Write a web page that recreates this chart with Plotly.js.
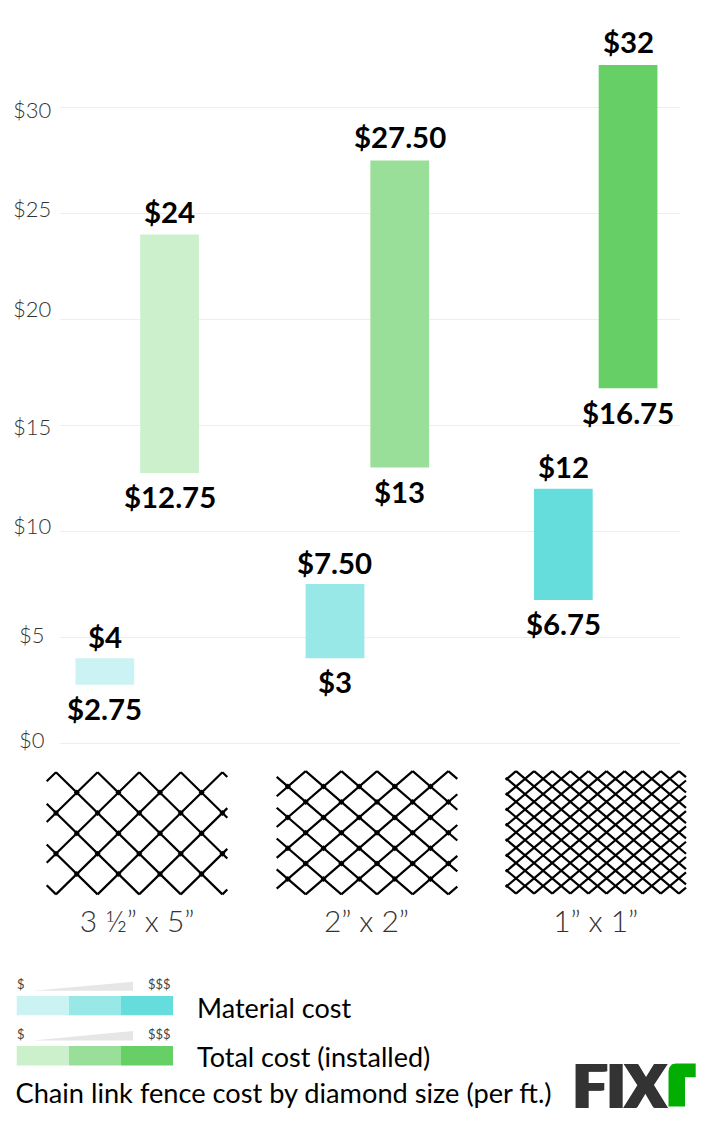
<!DOCTYPE html>
<html>
<head>
<meta charset="utf-8">
<script src="https://cdn.plot.ly/plotly-3.0.1.min.js"></script>
<style>html,body{margin:0;padding:0;background:#fff}#chart{opacity:.999}</style>
</head>
<body>
<div id="chart" style="width:710px;height:1123px"></div>
<script>
// ---- data ----
const sizes = ['3 ½” x 5”', '2” x 2”', '1” x 1”'];
const materialLow = [2.75, 4, 6.75];
const materialHigh = [4, 7.5, 12];
const totalLow = [12.75, 13, 16.75];
const totalHigh = [24, 27.5, 32];
const materialLowLabels = ['$2.75', '$3', '$6.75'];
const materialHighLabels = ['$4', '$7.50', '$12'];
const totalLowLabels = ['$12.75', '$13', '$16.75'];
const totalHighLabels = ['$24', '$27.50', '$32'];
const yTicks = [0, 5, 10, 15, 20, 25, 30];
const yTickLabels = ['$0', '$5', '$10', '$15', '$20', '$25', '$30'];
const legendNames = ['Material cost', 'Total cost (installed)'];
const chartTitle = 'Chain link fence cost by diamond size (per ft.)';

// ---- styles ----
const xSlots = [0, 1.004, 2];
const materialColors = ['#CCF3F3', '#98E8E8', '#66DDDD'];
const totalColors = ['#CCF0CC', '#99DF99', '#66D066'];
const yTickNudge = [3.3, 3, 5.5, -1, 10.7, 4.4, -2.5];
const W = 710, H = 1123, L = 60, R = 680, T = 20, B = 743.5;
const px = x => (x - L) / (R - L);
const py = y => (B - y) / (B - T);
const FONT = 'Lato, sans-serif';
const fences = [
  {x0: 46.7, x1: 227.3, y0: 772.7, y1: 895, apex: 56, dx: 20.8, dy: 20.38, width: 2.2, dot: 3},
  {x0: 276.7, x1: 457.3, y0: 771.7, y1: 895, apex: 305.7, dx: 17.83, dy: 15.41, width: 2.2, dot: 3},
  {x0: 505.7, x1: 686, y0: 771.7, y1: 894.3, apex: 516, dx: 9.05, dy: 7.66, width: 2.2, dot: 0}
];

function fencePath(f) {
  let d = '';
  for (let k = -30; k < 60; k++) {
    const ax = f.apex + 2 * f.dx * k;
    [1, -1].forEach(s => {
      let xa = s > 0 ? ax : ax - f.dx * (f.y1 - f.y0) / f.dy;
      let xb = s > 0 ? ax + f.dx * (f.y1 - f.y0) / f.dy : ax;
      xa = Math.max(xa, f.x0);
      xb = Math.min(xb, f.x1);
      if (xb <= xa) return;
      const yAt = x => f.y0 + s * (x - ax) * f.dy / f.dx;
      d += `M${px(xa)},${py(yAt(xa))}L${px(xb)},${py(yAt(xb))}`;
    });
  }
  return d;
}
function fenceKnots(f) {
  let d = '';
  const rows = Math.round((f.y1 - f.y0) / f.dy);
  for (let r = 1; r < rows; r++) {
    const y = f.y0 + r * f.dy;
    for (let k = -10; k < 30; k++) {
      const x = f.apex + (r % 2 ? f.dx : 0) + 2 * f.dx * k;
      if (x < f.x0 + 2 || x > f.x1 - 2) continue;
      const a = f.dot;
      d += `M${px(x - a)},${py(y)}L${px(x)},${py(y - a)}L${px(x + a)},${py(y)}L${px(x)},${py(y + a)}Z`;
    }
  }
  return d;
}

const shapes = [];
fences.forEach(f => {
  shapes.push({type: 'path', xref: 'paper', yref: 'paper', path: fencePath(f),
    line: {color: '#000', width: f.width}, layer: 'above'});
  if (f.dot) shapes.push({type: 'path', xref: 'paper', yref: 'paper', path: fenceKnots(f),
    fillcolor: '#000', line: {width: 0}, layer: 'above'});
});
function rect(x0, x1, y0, y1, color) {
  shapes.push({type: 'rect', xref: 'paper', yref: 'paper',
    x0: px(x0), x1: px(x1), y0: py(y0), y1: py(y1),
    fillcolor: color, line: {width: 0}});
}
function poly(points, color) {
  const d = points.map((p, i) => (i ? 'L' : 'M') + px(p[0]) + ',' + py(p[1])).join('') + 'Z';
  shapes.push({type: 'path', xref: 'paper', yref: 'paper', path: d, fillcolor: color, line: {width: 0}});
}
const segX = [16.7, 69, 121, 173];
materialColors.forEach((c, i) => rect(segX[i], segX[i + 1], 996.7, 1016, c));
totalColors.forEach((c, i) => rect(segX[i], segX[i + 1], 1046.7, 1066.3, c));
poly([[33, 991.3], [133, 982.3], [133, 991.3]], '#E6E6E6');
poly([[33, 1041.3], [133, 1031.7], [133, 1041.3]], '#E6E6E6');
// logo "r"
poly([[668.5, 1107.3], [668.5, 1072], [669.5, 1068], [672, 1065], [676, 1064.3], [695.7, 1064.3], [695.7, 1078], [685, 1078], [685, 1107.3]], '#03AE03');

const annotations = [];
const groupShift = 32.5;
function valueLabels(labels, values, shiftX, shiftY) {
  labels.forEach((t, i) => annotations.push({
    xref: 'x', yref: 'y', x: xSlots[i], y: values[i], xshift: shiftX, yshift: shiftY,
    text: t, showarrow: false, xanchor: 'center', yanchor: 'middle',
    font: {family: FONT, size: 29.4, color: '#000', weight: 700}
  }));
}
valueLabels(materialHighLabels, materialHigh, -groupShift, 22);
valueLabels(materialLowLabels, materialLow, -groupShift, -23.5);
valueLabels(totalHighLabels, totalHigh, groupShift, 23.5);
valueLabels(totalLowLabels, totalLow, groupShift, -24);
yTickLabels.forEach((t, i) => annotations.push({
  xref: 'paper', yref: 'y', x: px(31.5), y: yTicks[i], yshift: yTickNudge[i],
  text: t, showarrow: false, xanchor: 'center', yanchor: 'middle',
  font: {family: FONT, size: 22, color: '#333', weight: 300}
}));
function pageText(text, x, y, size, color, extra) {
  annotations.push(Object.assign({
    xref: 'paper', yref: 'paper', x: px(x), y: py(y), text, showarrow: false,
    xanchor: 'left', yanchor: 'middle', font: {family: FONT, size, color}
  }, extra || {}));
}
pageText('$', 15, 984.5, 13, '#444');
pageText('$$$', 146, 984.5, 13, '#444');
pageText('$', 15, 1034.5, 13, '#444');
pageText('$$$', 146, 1034.5, 13, '#444');
pageText(legendNames[0], 194.5, 1008, 27, '#000');
pageText(legendNames[1], 194.5, 1057, 27, '#000');
pageText('FIX', 571, 1086, 60, '#333', {font: {family: FONT, size: 60, color: '#333', weight: 900,
  shadow: '2px 0 #333, -2px 0 #333, 1.5px 0 #333, -1.5px 0 #333, 0.7px 0 #333, -0.7px 0 #333'}});

const traces = [
  {type: 'bar', name: legendNames[0], x: xSlots, base: materialLow,
   y: materialHigh.map((v, i) => v - materialLow[i]),
   marker: {color: materialColors, line: {width: 0}}, hoverinfo: 'skip'},
  {type: 'bar', name: legendNames[1], x: xSlots, base: totalLow,
   y: totalHigh.map((v, i) => v - totalLow[i]),
   marker: {color: totalColors, line: {width: 0}}, hoverinfo: 'skip'}
];

const unit = 229.25;
const layout = {
  width: W, height: H,
  margin: {l: L, r: W - R, t: T, b: H - B, pad: 0},
  paper_bgcolor: '#fff', plot_bgcolor: '#fff',
  showlegend: false,
  barmode: 'group', bargap: 1 - 130 / unit, bargroupgap: 1 - 59 / 65,
  title: {text: chartTitle, xref: 'container', yref: 'container',
    x: 15.5 / W, y: 1 - 1093 / H, xanchor: 'left', yanchor: 'middle',
    font: {family: FONT, size: 27.2, color: '#000'}},
  xaxis: {range: [-(137.2 - L) / unit, (R - 137.2) / unit],
    tickvals: [0, 1, 2], ticktext: sizes, showgrid: false, zeroline: false, showline: false,
    ticks: 'outside', ticklen: 152, tickcolor: 'rgba(0,0,0,0)',
    tickfont: {family: FONT, size: 30, color: '#333', weight: 300}},
  yaxis: {range: [0, (B - T) / 21.2], tickvals: yTicks, showticklabels: false,
    showgrid: true, gridcolor: '#EEEEEE', gridwidth: 1,
    zeroline: true, zerolinecolor: '#EEEEEE', zerolinewidth: 1, showline: false, ticks: ''},
  shapes, annotations
};
Plotly.newPlot('chart', traces, layout, {displayModeBar: false, staticPlot: true});
</script>
</body>
</html>
